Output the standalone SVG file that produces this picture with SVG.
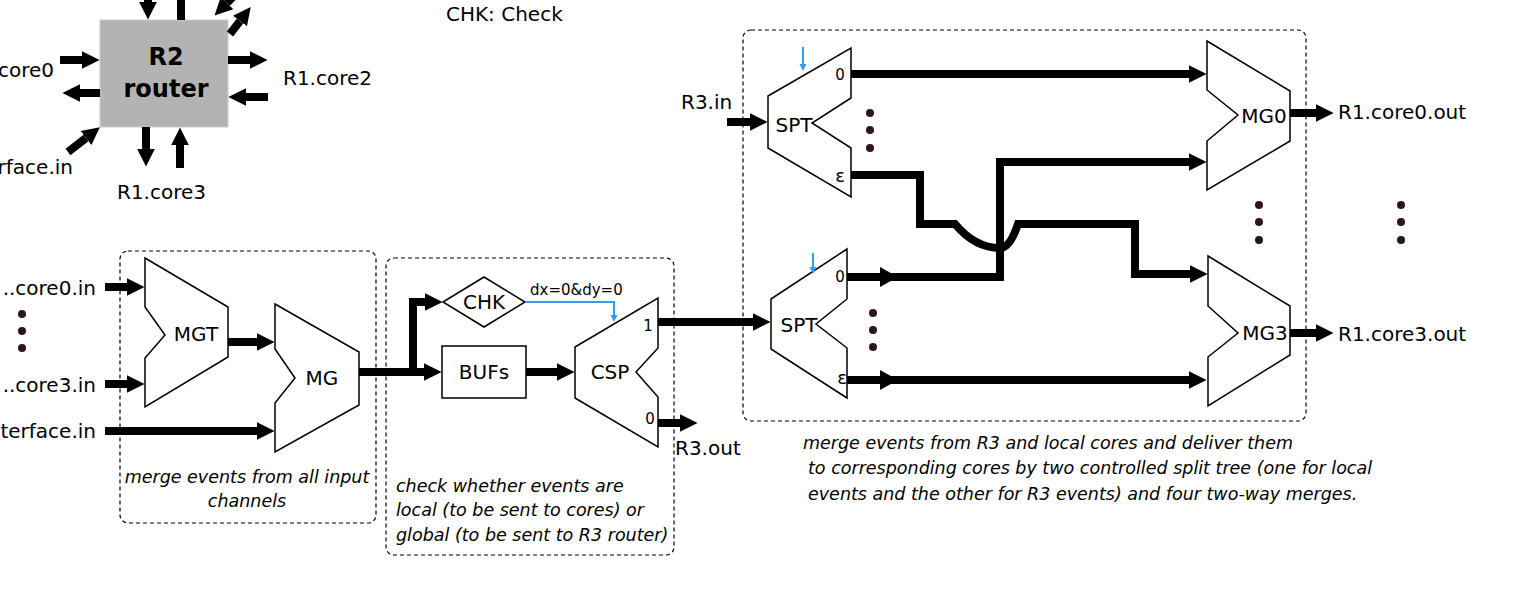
<svg xmlns="http://www.w3.org/2000/svg" width="1513" height="608" viewBox="0 0 1513 608">
<defs>
<marker id="ah" viewBox="0 0 10 10" refX="0" refY="5" markerWidth="2.2" markerHeight="2.5" orient="auto" markerUnits="strokeWidth"><path d="M0,0 L10,5 L0,10 z" fill="#000"/></marker>
<marker id="bh" viewBox="0 0 10 10" refX="0" refY="5" markerWidth="3.5" markerHeight="4" orient="auto" markerUnits="strokeWidth"><path d="M0,0 L10,5 L0,10 z" fill="#3399ff"/></marker>
</defs>
<style>
text{font-family:"DejaVu Sans",sans-serif;fill:#000}
.t{font-size:20px}
.s{font-size:15px}
.e{font-size:18px}
.c{font-size:17.5px;font-style:italic}
.w{fill:none;stroke:#000;stroke-width:8}
.a{fill:none;stroke:#000;stroke-width:8;marker-end:url(#ah)}
.sh{fill:#fff;stroke:#000;stroke-width:1.5}
.box{fill:none;stroke:#000;stroke-width:1.2;stroke-dasharray:4,3}
.bl{fill:none;stroke:#3399ff;stroke-width:2;marker-end:url(#bh)}
.d{fill:#2d1616}
</style>
<rect width="1513" height="608" fill="#fff"/>
<text x="446" y="21" class="t">CHK: Check</text>

<g id="router">
<rect x="100" y="20" width="128" height="107" fill="#b3b3b3" stroke="#ccc"/>
<text x="166" y="65" text-anchor="middle" style="font-size:24px;font-weight:bold">R2</text>
<text x="166" y="97" text-anchor="middle" style="font-size:24px;font-weight:bold">router</text>
</g>
<g id="router-arrows">
<path class="a" d="M148,-5 V2"/>
<path class="w" d="M181,20 V0"/>
<path class="a" d="M240,-10 L227,3"/>
<path class="a" d="M230,34 L240,21"/>
<path class="a" d="M60,60 H82"/>
<path class="a" d="M100,93 H80"/>
<path class="a" d="M228,60 H250"/>
<path class="a" d="M268,97 H246"/>
<path class="a" d="M68,152 L86,138"/>
<path class="a" d="M146,127 V149"/>
<path class="a" d="M180,168 V145"/>
</g>
<text x="-2" y="77" class="t">core0</text>
<text x="73" y="174" class="t" text-anchor="end">rface.in</text>
<text x="283" y="85" class="t">R1.core2</text>
<text x="117" y="199" class="t">R1.core3</text>

<g id="merge-box">
<rect class="box" x="120" y="251" width="256" height="272" rx="8"/>
<text x="247" y="483" class="c" text-anchor="middle">merge events from all input</text>
<text x="247" y="507" class="c" text-anchor="middle">channels</text>
</g>
<g id="MGT">
<path class="sh" d="M145,258 L228,307 V357 L145,407 V358 L165,335 L145,307 Z"/>
<text x="196" y="341" class="t" text-anchor="middle">MGT</text>
</g>
<g id="MG">
<path class="sh" d="M275,304 L359,352 V405 L275,452 V403 L295,378 L275,349 Z"/>
<text x="322" y="385" class="t" text-anchor="middle">MG</text>
</g>
<text x="96" y="295" class="t" text-anchor="end">..core0.in</text>
<text x="96" y="392" class="t" text-anchor="end">..core3.in</text>
<text x="96" y="438" class="t" text-anchor="end">terface.in</text>
<circle class="d" cx="22" cy="314" r="4"/><circle class="d" cx="22" cy="331" r="4"/><circle class="d" cx="22" cy="348" r="4"/>

<g id="check-box">
<rect class="box" x="386" y="258" width="288" height="297" rx="8"/>
<text x="396" y="492" class="c">check whether events are</text>
<text x="396" y="516" class="c">local (to be sent to cores) or</text>
<text x="396" y="541" class="c">global (to be sent to R3 router)</text>
</g>
<g id="CHK">
<path class="sh" d="M443,302 L484,277 L525,302 L484,327 Z"/>
<text x="484" y="309" class="t" text-anchor="middle">CHK</text>
</g>
<g id="BUFs">
<rect class="sh" x="442" y="346" width="84" height="52"/>
<text x="484" y="379" class="t" text-anchor="middle">BUFs</text>
</g>
<g id="CSP">
<path class="sh" d="M575,347 L658,298 V348 L636,372 L658,397 V447 L575,398 Z"/>
<text x="610" y="379" class="t" text-anchor="middle">CSP</text>
<text x="648" y="331" class="s" text-anchor="middle">1</text>
<text x="650" y="424" class="s" text-anchor="middle">0</text>
</g>
<text x="530" y="295" class="s">dx=0&amp;dy=0</text>
<text x="675" y="455" class="t">R3.out</text>

<g id="deliver-box">
<rect class="box" x="743" y="30" width="563" height="391" rx="8"/>
<text x="803" y="449" class="c">merge events from R3 and local cores and deliver them</text>
<text x="808" y="474" class="c">to corresponding cores by two controlled split tree (one for local</text>
<text x="808" y="500" class="c">events and the other for R3 events) and four two-way merges.</text>
</g>
<g id="SPT1">
<path class="sh" d="M768,96 L851,48 V98 L812,123 L851,148 V197 L768,148 Z"/>
<text x="794" y="132" class="t" text-anchor="middle">SPT</text>
<text x="840" y="80" class="s" text-anchor="middle">0</text>
<text x="840" y="182" class="e" text-anchor="middle">ε</text>
</g>
<g id="SPT2">
<path class="sh" d="M771,299 L847,249 V299 L816,324 L847,348 V398 L771,349 Z"/>
<text x="799" y="332" class="t" text-anchor="middle">SPT</text>
<text x="840" y="282" class="s" text-anchor="middle">0</text>
<text x="842" y="384" class="e" text-anchor="middle">ε</text>
</g>
<g id="MG0">
<path class="sh" d="M1207,41 L1290,91 V141 L1207,190 V141 L1238,115 L1207,90 Z"/>
<text x="1264" y="123" class="t" text-anchor="middle">MG0</text>
</g>
<g id="MG3">
<path class="sh" d="M1208,256 L1290,306 V355 L1208,406 V357 L1238,333 L1208,306 Z"/>
<text x="1265" y="340" class="t" text-anchor="middle">MG3</text>
</g>
<text x="681" y="109" class="t">R3.in</text>
<text x="1338" y="119" class="t">R1.core0.out</text>
<text x="1338" y="341" class="t">R1.core3.out</text>
<circle class="d" cx="870" cy="113" r="4"/><circle class="d" cx="870" cy="130" r="4"/><circle class="d" cx="870" cy="148" r="4"/>
<circle class="d" cx="873" cy="313" r="4"/><circle class="d" cx="873" cy="330" r="4"/><circle class="d" cx="873" cy="347" r="4"/>
<circle class="d" cx="1259" cy="205" r="4"/><circle class="d" cx="1259" cy="222" r="4"/><circle class="d" cx="1259" cy="240" r="4"/>
<circle class="d" cx="1401" cy="205" r="4"/><circle class="d" cx="1401" cy="222" r="4"/><circle class="d" cx="1401" cy="240" r="4"/>

<g id="connectors">
<path class="a" d="M105,287 H127"/>
<path class="a" d="M105,384 H127"/>
<path class="a" d="M105,431 H257"/>
<path class="a" d="M228,342 H257"/>
<path class="a" d="M359,372 H424"/>
<path class="a" d="M413,372 V302 H425"/>
<path class="a" d="M526,372 H557"/>
<path class="bl" d="M525,302 H614 V315"/>
<path class="bl" d="M803,47 V64"/>
<path class="bl" d="M813,253 V267"/>
<path class="a" d="M658,322 H753"/>
<path class="a" d="M658,423 H680"/>
<path class="a" d="M727,122 H750"/>
<path class="a" d="M851,74 H1189"/>
<path class="a" d="M851,175 H920 V224 H955 Q975,248 1000,248 Q1010,248 1018,224 H1135 V274 H1190"/>
<path class="a" d="M847,277 H1000 V162 H1189"/>
<path class="a" d="M847,380 H1189"/>
<path d="M880,267 L898,277 L880,287 Z"/>
<path d="M880,370 L898,380 L880,390 Z"/>
<path class="a" d="M1290,113 H1316"/>
<path class="a" d="M1290,333 H1316"/>
</g>
</svg>
